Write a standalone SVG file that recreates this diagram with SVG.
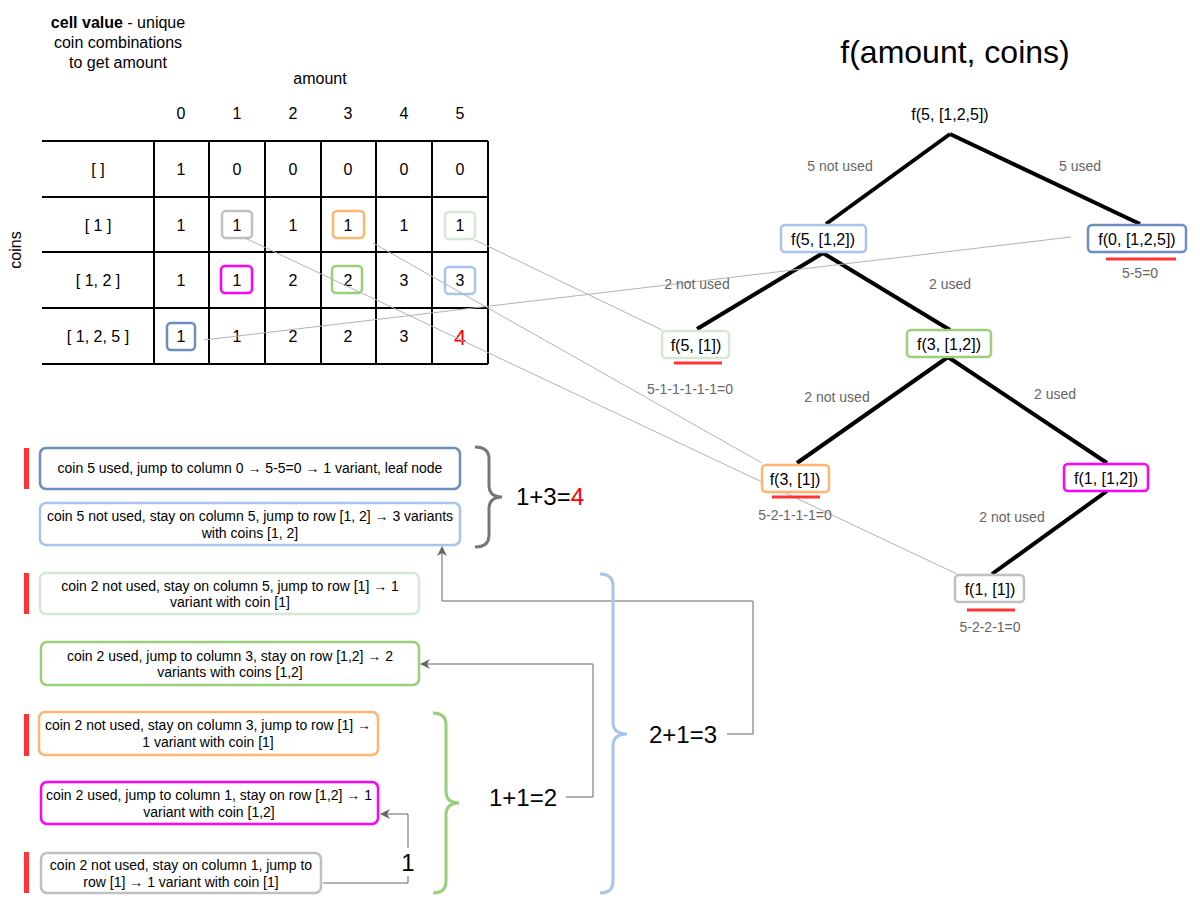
<svg xmlns="http://www.w3.org/2000/svg" width="1200" height="917" viewBox="0 0 1200 917">
<style>
text{font-family:"Liberation Sans",Arial,sans-serif;fill:#000;text-anchor:middle;dominant-baseline:central}
.t16{font-size:16px}
.t14{font-size:14px}
.lbl{font-size:14px;fill:#666}
.sum{font-size:24px}
.grid{stroke:#000;stroke-width:2;fill:none}
.hl{fill:none;stroke-width:2.5}
.node{fill:#fff;stroke-width:2.5}
.edge{stroke:#000;stroke-width:4;fill:none}
.link{stroke:#b3b3b3;stroke-width:1;fill:none}
.ul{stroke:#ff3333;stroke-width:3}
.bar{fill:#ff3333}
.box{fill:#fff;stroke-width:2.5}
.arr{stroke:#666;stroke-width:1;fill:none}
.brace{fill:none;stroke-width:3}
.dblue{stroke:#6c8ebf}.lblue{stroke:#a9c4eb}.lgreen{stroke:#d5e8d4}.green{stroke:#97d077}.orange{stroke:#ffb570}.mag{stroke:#ff00ff}.gray{stroke:#c0c0c0}
</style>
<defs>
<marker id="ah" viewBox="0 0 10 10" refX="9" refY="5" markerWidth="10" markerHeight="10" markerUnits="userSpaceOnUse" orient="auto">
<path d="M0,0 L10,5 L0,10 L3,5 z" fill="#666"/>
</marker>
</defs>

<g id="legend">
<text class="t16" x="118" y="22"><tspan font-weight="bold">cell value</tspan> - unique</text>
<text class="t16" x="118" y="42">coin combinations</text>
<text class="t16" x="118" y="62">to get amount</text>
</g>

<g id="table">
<text class="t16" x="320" y="78">amount</text>
<text class="t16" transform="translate(15,250) rotate(-90)">coins</text>
<g id="col-headers" class="t16">
<text class="t16" x="181" y="113">0</text>
<text class="t16" x="237" y="113">1</text>
<text class="t16" x="293" y="113">2</text>
<text class="t16" x="348" y="113">3</text>
<text class="t16" x="404" y="113">4</text>
<text class="t16" x="460" y="113">5</text>
</g>
<path class="grid" d="M42,141 H488 M42,197 H488 M42,252 H488 M42,308 H488 M42,364 H488 M154,141 V364 M209,141 V364 M265,141 V364 M321,141 V364 M376,141 V364 M432,141 V364 M488,141 V364"/>
<g id="row-labels">
<text class="t16" x="98" y="169">[ ]</text>
<text class="t16" x="98" y="225">[ 1 ]</text>
<text class="t16" x="98" y="280">[ 1, 2 ]</text>
<text class="t16" x="98" y="336">[ 1, 2, 5 ]</text>
</g>
<g id="cells">
<text class="t16" x="181" y="169">1</text><text class="t16" x="237" y="169">0</text><text class="t16" x="293" y="169">0</text><text class="t16" x="348" y="169">0</text><text class="t16" x="404" y="169">0</text><text class="t16" x="460" y="169">0</text>
<text class="t16" x="181" y="225">1</text><text class="t16" x="237" y="225">1</text><text class="t16" x="293" y="225">1</text><text class="t16" x="348" y="225">1</text><text class="t16" x="404" y="225">1</text><text class="t16" x="460" y="225">1</text>
<text class="t16" x="181" y="280">1</text><text class="t16" x="237" y="280">1</text><text class="t16" x="293" y="280">2</text><text class="t16" x="348" y="280">2</text><text class="t16" x="404" y="280">3</text><text class="t16" x="460" y="280">3</text>
<text class="t16" x="181" y="336">1</text><text class="t16" x="237" y="336">1</text><text class="t16" x="293" y="336">2</text><text class="t16" x="348" y="336">2</text><text class="t16" x="404" y="336">3</text><text x="460" y="337" style="font-size:22px;fill:#ff0000">4</text>
</g>
<g id="cell-highlights">
<rect class="hl gray" x="222" y="211" width="30" height="27" rx="4"/>
<rect class="hl orange" x="333" y="211" width="31" height="27" rx="4"/>
<rect class="hl lgreen" x="445" y="212" width="30" height="27" rx="4"/>
<rect class="hl mag" x="221" y="266" width="31" height="27" rx="4"/>
<rect class="hl green" x="332" y="266" width="30" height="27" rx="4"/>
<rect class="hl lblue" x="445" y="267" width="30" height="27" rx="4"/>
<rect class="hl dblue" x="167" y="323" width="28" height="27" rx="4"/>
</g>
</g>

<g id="connectors">
<g id="tree-edges">
<path class="edge" d="M950,134 L826,224"/>
<path class="edge" d="M950,134 L1140,224"/>
<path class="edge" d="M823,253 L697,329"/>
<path class="edge" d="M823,253 L950,330"/>
<path class="edge" d="M948,357 L797,463"/>
<path class="edge" d="M948,357 L1107,463"/>
<path class="edge" d="M1107,491 L992,574"/>
</g>
<g id="cell-links">
<path class="link" d="M204,340 L1071,237"/>
<path class="link" d="M475,240 L662,330"/>
<path class="link" d="M373,243 L762,463"/>
<path class="link" d="M245,238 L957,574"/>
</g>
<g id="sum-arrows">
<path class="arr" d="M323,883 H408 V814 H381" marker-end="url(#ah)"/>
<path class="arr" d="M566,797 H593 V664 H421" marker-end="url(#ah)"/>
<path class="arr" d="M727,734 H753 V601 H442 V547" marker-end="url(#ah)"/>
</g>
<g id="braces">
<path class="brace" stroke="#777" d="M475,447 Q489,447 489,459 L489,485 Q489,497 502,497 Q489,497 489,509 L489,535 Q489,547 475,547"/>
<path class="brace" stroke="#97d077" d="M433,713 Q446,713 446,725 L446,791 Q446,803 459,803 Q446,803 446,815 L446,881 Q446,893 433,893"/>
<path class="brace" stroke="#a9c4eb" d="M600,574 Q613,574 613,586 L613,722 Q613,734 627,734 Q613,734 613,746 L613,881 Q613,893 600,893"/>
</g>
</g>

<g id="tree-title"><text x="955" y="52" style="font-size:32px">f(amount, coins)</text></g>

<g id="edge-labels">
<text class="lbl" x="840" y="166">5 not used</text>
<text class="lbl" x="1080" y="166">5 used</text>
<text class="lbl" x="697" y="284">2 not used</text>
<text class="lbl" x="950" y="284">2 used</text>
<text class="lbl" x="837" y="397">2 not used</text>
<text class="lbl" x="1055" y="394">2 used</text>
<text class="lbl" x="1012" y="517">2 not used</text>
</g>

<g id="node-root"><text class="t16" x="950" y="114">f(5, [1,2,5])</text></g>
<g id="node-f5-12">
<rect class="node lblue" x="781" y="225" width="85" height="27" rx="4"/>
<text class="t16" x="823" y="239">f(5, [1,2])</text>
</g>
<g id="node-f0-125">
<rect class="node dblue" x="1088" y="225" width="98" height="27" rx="4"/>
<text class="t16" x="1137" y="239">f(0, [1,2,5])</text>
<line class="ul" x1="1106" y1="259" x2="1176" y2="259"/>
<text class="lbl" x="1140" y="273">5-5=0</text>
</g>
<g id="node-f5-1">
<rect class="node lgreen" x="662" y="331" width="67" height="27" rx="4"/>
<text class="t16" x="696" y="345">f(5, [1])</text>
<line class="ul" x1="674" y1="363" x2="722" y2="363"/>
<text class="lbl" x="690" y="389">5-1-1-1-1-1=0</text>
</g>
<g id="node-f3-12">
<rect class="node green" x="907" y="330" width="84" height="27" rx="4"/>
<text class="t16" x="949" y="344">f(3, [1,2])</text>
</g>
<g id="node-f3-1">
<rect class="node orange" x="762" y="465" width="67" height="27" rx="4"/>
<text class="t16" x="795" y="479">f(3, [1])</text>
<line class="ul" x1="772" y1="497" x2="820" y2="497"/>
<text class="lbl" x="795" y="515">5-2-1-1-1=0</text>
</g>
<g id="node-f1-12">
<rect class="node mag" x="1064" y="464" width="84" height="27" rx="4"/>
<text class="t16" x="1106" y="478">f(1, [1,2])</text>
</g>
<g id="node-f1-1">
<rect class="node gray" x="955" y="575" width="69" height="27" rx="4"/>
<text class="t16" x="990" y="589">f(1, [1])</text>
<line class="ul" x1="967" y1="610" x2="1015" y2="610"/>
<text class="lbl" x="990" y="627">5-2-2-1=0</text>
</g>

<g id="box-a">
<rect class="bar" x="24" y="448" width="5" height="41"/>
<rect class="box dblue" x="40" y="448" width="420" height="41" rx="6"/>
<text class="t14" x="250" y="468">coin 5 used, jump to column 0 → 5-5=0 → 1 variant, leaf node</text>
</g>
<g id="box-b">
<rect class="box lblue" x="40" y="503" width="420" height="42" rx="6"/>
<text class="t14" x="250" y="516">coin 5 not used, stay on column 5, jump to row [1, 2] → 3 variants</text>
<text class="t14" x="250" y="533">with coins [1, 2]</text>
</g>
<g id="box-c">
<rect class="bar" x="24" y="573" width="5" height="41"/>
<rect class="box lgreen" x="40" y="573" width="379" height="41" rx="6"/>
<text class="t14" x="230" y="586">coin 2 not used, stay on column 5, jump to row [1]  → 1</text>
<text class="t14" x="230" y="602">variant with coin [1]</text>
</g>
<g id="box-d">
<rect class="box green" x="41" y="642" width="378" height="43" rx="6"/>
<text class="t14" x="230" y="656">coin 2 used, jump to column 3, stay on row [1,2]  → 2</text>
<text class="t14" x="230" y="672">variants with coins [1,2]</text>
</g>
<g id="box-e">
<rect class="bar" x="24" y="714" width="5" height="42"/>
<rect class="box orange" x="39" y="712" width="339" height="43" rx="6"/>
<text class="t14" x="208" y="725">coin 2 not used, stay on column 3, jump to row [1]  →</text>
<text class="t14" x="208" y="742">1 variant with coin [1]</text>
</g>
<g id="box-f">
<rect class="box mag" x="41" y="782" width="337" height="42" rx="6"/>
<text class="t14" x="209" y="795">coin 2 used, jump to column 1, stay on row [1,2]  → 1</text>
<text class="t14" x="209" y="812">variant with coin [1,2]</text>
</g>
<g id="box-g">
<rect class="bar" x="24" y="852" width="5" height="41"/>
<rect class="box gray" x="41" y="853" width="280" height="40" rx="6"/>
<text class="t14" x="181" y="865">coin 2 not used, stay on column 1, jump to</text>
<text class="t14" x="181" y="882">row [1]  → 1 variant with coin [1]</text>
</g>

<g id="sums">
<rect x="398" y="848" width="20" height="28" fill="#fff"/>
<text class="sum" x="408" y="862">1</text>
<text class="sum" x="523" y="797">1+1=2</text>
<text class="sum" x="683" y="734">2+1=3</text>
<text class="sum" x="550" y="496">1+3=<tspan fill="#ff0000">4</tspan></text>
</g>
</svg>
